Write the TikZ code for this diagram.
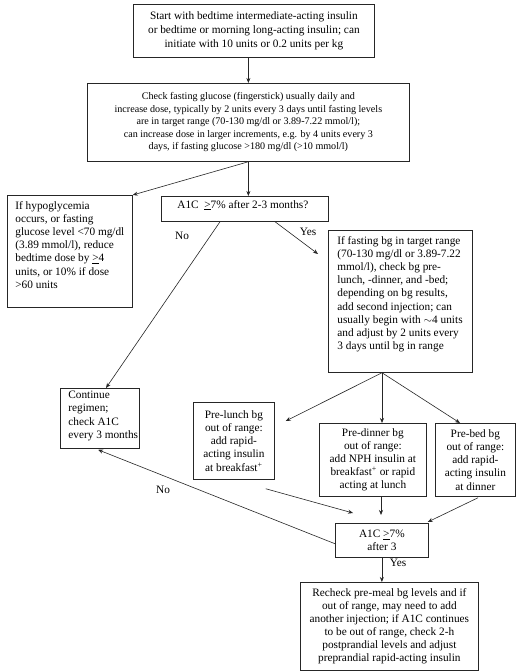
\documentclass[tikz,border=0pt]{standalone}
\usepackage{fontspec}
\setmainfont{Liberation Serif}
\usetikzlibrary{arrows.meta,calc}
\newcommand{\cbx}[5]{\parbox[c][#2][c]{#1}{\fontsize{#4}{#3}\selectfont\centering #5}}
\newcommand{\lbx}[5]{\parbox[c][#2][t]{#1}{\fontsize{11.3}{13.2}\selectfont\raggedright\leftskip=#3\relax\vspace*{#4}\strut #5}}
\tikzset{
  box/.style={draw=black!85, line width=0.75pt, rectangle, inner sep=0pt, anchor=north west},
  arr/.style={draw=black!85, line width=0.6pt, -{Stealth[length=5pt,width=4pt]}},
  lbl/.style={font=\fontsize{11.3}{13}\selectfont, inner sep=0pt}
}
\begin{document}
\begin{tikzpicture}[x=1pt,y=-1pt]
\useasboundingbox[fill=white] (0,0) rectangle (520,671);
% boxes
\node[box] (top) at (133,4) {\cbx{241pt}{53pt}{14}{11.3}{Start with bedtime intermediate-acting insulin\\ or bedtime or morning long-acting insulin; can\\ initiate with 10 units or 0.2 units per kg}};
\node[box] (check) at (87,83) {\cbx{322pt}{78pt}{12.5}{10.1}{Check fasting glucose (fingerstick) usually daily and\\ increase dose, typically by 2 units every 3 days until fasting levels\\ are in target range (70-130 mg/dl or 3.89-7.22 mmol/l);\\ can increase dose in larger increments, e.g. by 4 units every 3\\ days, if fasting glucose >180 mg/dl (>10 mmol/l)}};
\node[box] (hypo) at (7,195) {\lbx{125pt}{112pt}{8pt}{4.5pt}{If hypoglycemia\\ occurs, or fasting\\ glucose level <70 mg/dl\\ (3.89 mmol/l), reduce\\ bedtime dose by \underline{>}4\\ units, or 10\% if dose\\ >60 units}};
\node[box] (a1c) at (161,196) {\lbx{167pt}{25pt}{16pt}{2.6pt}{A1C\ \ \underline{>}7\% after 2-3 months?}};
\node[box] (fast) at (328,230) {\lbx{144pt}{142pt}{9pt}{4.5pt}{If fasting bg in target range\\ (70-130 mg/dl or 3.89-7.22\\ mmol/l), check bg pre-\\ lunch, -dinner, and -bed;\\ depending on bg results,\\ add second injection; can\\ usually begin with $\sim$4 units\\ and adjust by 2 units every\\ 3 days until bg in range}};
\node[box] (cont) at (60,388) {\lbx{79pt}{60pt}{8pt}{1pt}{Continue\\ regimen;\\ check A1C\\ every 3 months}};
\node[box] (lunch) at (193,402) {\cbx{81pt}{77pt}{13.2}{11.3}{Pre-lunch bg\\ out of range:\\ add rapid-\\ acting insulin\\ at breakfast\textsuperscript{+}}};
\node[box] (dinner) at (319,423) {\cbx{107pt}{73pt}{13.2}{11.3}{Pre-dinner bg\\ out of range:\\ add NPH insulin at\\ breakfast\textsuperscript{+} or rapid\\ acting at lunch}};
\node[box] (bed) at (435,423) {\cbx{80pt}{73pt}{13.2}{11.3}{Pre-bed bg\\ out of range:\\ add rapid-\\ acting insulin\\ at dinner}};
\node[box] (a1cb) at (335,523) {\cbx{93pt}{34pt}{13}{11.3}{A1C \underline{>}7\%\\ after 3}};
\node[box] (rech) at (300,582) {\cbx{178pt}{88pt}{13}{11.3}{Recheck pre-meal bg levels and if\\ out of range, may need to add\\ another injection; if A1C continues\\ to be out of range, check 2-h\\ postprandial levels and adjust\\ preprandial rapid-acting insulin}};
% free ends
\coordinate (yesEnd) at ($(fast.north west)+(-10,24)$);
\coordinate (lunchEnd) at ($(lunch.north east)+(11,19)$);
\coordinate (lunchOut) at ($(lunch.south east)+(-9,9)$);
\coordinate (lunchIn) at ($(a1cb.north west)+(18,-10)$);
\coordinate (dinIn) at ($(a1cb.north west)+(46,-8)$);
% connectors
\draw[arr] (check.north |- top.south) -- (check.north);
\draw[arr] (check.south) -- (check.south |- a1c.north);
\draw[arr] (check.south) -- (hypo.north east);
\draw[arr] ($(a1c.south west)+(59,0)$) -- ($(cont.north west)+(46,0)$);
\draw[arr] ($(a1c.south west)+(114,0)$) -- (yesEnd);
\draw[arr] ($(fast.south west)+(54,0)$) -- (lunchEnd);
\draw[arr] ($(fast.south west)+(54,0)$) -- ($(dinner.north west)+(63,0)$);
\draw[arr] ($(fast.south west)+(54,0)$) -- ($(bed.north west)+(25,0)$);
\draw[arr] (lunchOut) -- (lunchIn);
\draw[arr] ($(dinner.south west)+(62,0)$) -- (dinIn);
\draw[arr] ($(bed.south west)+(43,1)$) -- ($(a1cb.north east)+(-1,-1)$);
\draw[arr] ($(a1cb.south west)+(0,-14)$) -- ($(cont.south west)+(38,1)$);
\draw[arr] (a1cb.south) -- (a1cb.south |- rech.north);
% labels
\node[lbl] (no1) at (182,236) {No};
\node[lbl] (yes1) at (308,232) {Yes};
\node[lbl] (no2) at (163,490) {No};
\node[lbl] (yes2) at (398,563) {Yes};
\end{tikzpicture}
\end{document}
